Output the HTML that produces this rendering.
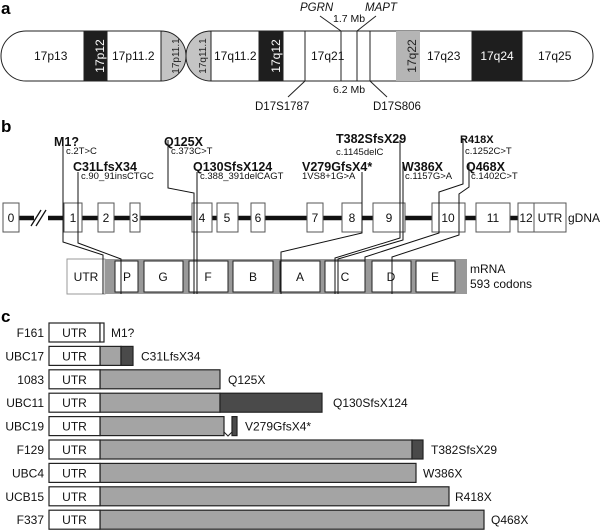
<!DOCTYPE html>
<html><head><meta charset="utf-8"><style>
html,body{margin:0;padding:0;background:#fff;}
svg{display:block;font-family:"Liberation Sans",Arial,sans-serif;}
</style></head><body>
<svg width="600" height="530" viewBox="0 0 600 530" xmlns="http://www.w3.org/2000/svg">
<!-- Panel a -->
<text x="1" y="14" font-size="17" font-weight="bold">a</text>
<g stroke="#222" stroke-width="1">
  <!-- p arm -->
  <path d="M26,31 H161 V81 H26 A25,25 0 0 1 26,31 Z" fill="#fff"/>
  <rect x="84" y="31" width="23" height="50" fill="#1e1e1e"/>
  <path d="M161,31 A25,25 0 0 1 161,81 Z" fill="#c4c4c4"/>
  <!-- q arm -->
  <path d="M211,31 H568 A25,25 0 0 1 568,81 H211 Z" fill="#fff"/>
  <path d="M211,31 A25,25 0 0 0 211,81 Z" fill="#c4c4c4"/>
  <rect x="259" y="31" width="24" height="50" fill="#1e1e1e"/>
  <rect x="396" y="31" width="24" height="50" fill="#b5b5b5" stroke="none"/>
  <rect x="472" y="31" width="50" height="50" fill="#1e1e1e"/>
  <line x1="305" y1="31" x2="305" y2="81"/>
  <line x1="341" y1="31" x2="341" y2="81"/>
  <line x1="357" y1="31" x2="357" y2="81"/>
  <line x1="370" y1="31" x2="370" y2="81"/>
  <line x1="320" y1="16" x2="341" y2="31"/>
  <line x1="376" y1="16" x2="357" y2="31"/>
  <line x1="305" y1="81" x2="288" y2="97"/>
  <line x1="370" y1="81" x2="387" y2="97"/>
</g>
<g font-size="12" fill="#111">
  <text x="34" y="60">17p13</text>
  <text x="112" y="60">17p11.2</text>
  <text x="214" y="60">17q11.2</text>
  <text x="311" y="60">17q21</text>
  <text x="427" y="60">17q23</text>
  <text x="538" y="60">17q25</text>
  <text x="530" y="60" fill="#fff" text-anchor="middle" dx="-33">17q24</text>
</g>
<g font-size="12" fill="#fff" text-anchor="middle">
  <text transform="translate(100,56) rotate(-90)" dy="4">17p12</text>
  <text transform="translate(276,56) rotate(-90)" dy="4">17q12</text>
</g>
<g font-size="10" fill="#222" text-anchor="middle">
  <text transform="translate(176,56) rotate(-90)" dy="3">17p11.1</text>
  <text transform="translate(203,56) rotate(-90)" dy="3">17q11.1</text>
  <text transform="translate(412,56) rotate(-90)" dy="4" font-size="12">17q22</text>
</g>
<g font-size="11.5" fill="#111">
  <text x="300" y="11" font-style="italic">PGRN</text>
  <text x="365" y="11" font-style="italic">MAPT</text>
  <text x="333" y="22" font-size="10.5">1.7 Mb</text>
  <text x="349" y="93" font-size="10.5" text-anchor="middle">6.2 Mb</text>
  <text x="255" y="110">D17S1787</text>
  <text x="373" y="110">D17S806</text>
</g>

<!-- Panel b -->
<text x="1" y="132" font-size="17" font-weight="bold">b</text>
<line x1="19" y1="218" x2="534" y2="218" stroke="#111" stroke-width="4.5"/>
<rect x="34" y="210" width="14" height="16" fill="#fff"/>
<line x1="31" y1="226" x2="41" y2="210" stroke="#111" stroke-width="1.3"/>
<line x1="36" y1="226" x2="46" y2="210" stroke="#111" stroke-width="1.3"/>
<g stroke="#555" stroke-width="1" fill="#fff">
  <rect x="3" y="203" width="16" height="29"/>
  <rect x="64" y="203" width="18" height="29"/>
  <rect x="98" y="203" width="16" height="29"/>
  <rect x="130" y="203" width="10" height="29"/>
  <rect x="192" y="203" width="20" height="29"/>
  <rect x="217" y="203" width="21" height="29"/>
  <rect x="251" y="203" width="14" height="29"/>
  <rect x="307" y="203" width="16" height="29"/>
  <rect x="342" y="203" width="20" height="29"/>
  <rect x="373" y="203" width="32" height="29"/>
  <rect x="432" y="203" width="33" height="29"/>
  <rect x="476" y="203" width="34" height="29"/>
  <rect x="518" y="203" width="48" height="29"/>
  <line x1="534" y1="203" x2="534" y2="232"/>
</g>
<g font-size="12" fill="#111" text-anchor="middle">
  <text x="11" y="222">0</text><text x="73" y="222">1</text><text x="106" y="222">2</text>
  <text x="135" y="222">3</text><text x="202" y="222">4</text><text x="227" y="222">5</text>
  <text x="258" y="222">6</text><text x="315" y="222">7</text><text x="352" y="222">8</text>
  <text x="389" y="222">9</text><text x="448" y="222">10</text><text x="493" y="222">11</text>
  <text x="526" y="222">12</text><text x="550" y="222">UTR</text>
</g>
<text x="568" y="222" font-size="12" fill="#111">gDNA</text>
<!-- mRNA -->
<rect x="105" y="259" width="362" height="35" fill="#999"/>
<rect x="67" y="259" width="38" height="35" fill="#fff" stroke="#999" stroke-width="1"/>
<g fill="#fff" stroke="#222" stroke-width="1">
  <rect x="115" y="261" width="23" height="31"/>
  <rect x="144" y="261" width="39" height="31"/>
  <rect x="189" y="261" width="39" height="31"/>
  <rect x="233" y="261" width="40" height="31"/>
  <rect x="280" y="261" width="40" height="31"/>
  <rect x="325" y="261" width="40" height="31"/>
  <rect x="372" y="261" width="39" height="31"/>
  <rect x="416" y="261" width="39" height="31"/>
</g>
<g font-size="12" fill="#111" text-anchor="middle">
  <text x="86" y="281">UTR</text><text x="127" y="281">P</text><text x="163" y="281">G</text>
  <text x="208" y="281">F</text><text x="253" y="281">B</text><text x="300" y="281">A</text>
  <text x="345" y="281">C</text><text x="391" y="281">D</text><text x="435" y="281">E</text>
</g>
<text x="470" y="273" font-size="12" fill="#111">mRNA</text>
<text x="470" y="288" font-size="12" fill="#111">593 codons</text>
<!-- connectors -->
<g fill="none" stroke="#111" stroke-width="1">
  <polyline points="63,140 63,242 103,255 103,294"/>
  <polyline points="78,172 78,243 121,259 121,294"/>
  <polyline points="168,140 168,188 194,193 194,294"/>
  <polyline points="197,172 197,294"/>
  <polyline points="362,172 362,233 281,252 281,294"/>
  <polyline points="400,140 400,238 335,258 335,294"/>
  <polyline points="403,163 403,240 338,259 338,294"/>
  <polyline points="463,138 463,184 439,192 439,233 365,257 365,262"/>
  <polyline points="469,164 469,187 459,194 459,235 392,257 392,294"/>
</g>
<g fill="#111">
  <g font-size="12.5" font-weight="bold">
    <text x="54" y="146">M1?</text>
    <text x="73" y="171">C31LfsX34</text>
    <text x="164" y="146">Q125X</text>
    <text x="193" y="171">Q130SfsX124</text>
    <text x="302" y="171">V279GfsX4*</text>
    <text x="336" y="143">T382SfsX29</text>
    <text x="402" y="171">W386X</text>
    <text x="460" y="143" font-size="11">R418X</text>
    <text x="466" y="171">Q468X</text>
  </g>
  <g font-size="9.5">
    <text x="66" y="154">c.2T&gt;C</text>
    <text x="81" y="179">c.90_91insCTGC</text>
    <text x="171" y="154">c.373C&gt;T</text>
    <text x="200" y="179">c.388_391delCAGT</text>
    <text x="302" y="179">1VS8+1G&gt;A</text>
    <text x="336" y="155">c.1145delC</text>
    <text x="405" y="179">c.1157G&gt;A</text>
    <text x="465" y="154">c.1252C&gt;T</text>
    <text x="471" y="179">c.1402C&gt;T</text>
  </g>
</g>

<!-- Panel c -->
<text x="1" y="322" font-size="17" font-weight="bold">c</text>
<g stroke="#222" stroke-width="1.2">
  <!-- F161 -->
  <rect x="49" y="323" width="51" height="19" fill="#fff"/>
  <rect x="100" y="323" width="4" height="19" fill="#fff"/>
  <!-- UBC17 -->
  <rect x="100" y="346.4" width="21" height="19" fill="#a4a4a4"/>
  <rect x="121" y="346.4" width="12" height="19" fill="#4a4a4a"/>
  <rect x="49" y="346.4" width="51" height="19" fill="#fff"/>
  <!-- 1083 -->
  <rect x="100" y="369.8" width="120" height="19" fill="#a4a4a4"/>
  <rect x="49" y="369.8" width="51" height="19" fill="#fff"/>
  <!-- UBC11 -->
  <rect x="100" y="393.2" width="120" height="19" fill="#a4a4a4"/>
  <rect x="220" y="393.2" width="102" height="19" fill="#4a4a4a"/>
  <rect x="49" y="393.2" width="51" height="19" fill="#fff"/>
  <!-- UBC19 -->
  <rect x="100" y="416.6" width="124" height="19" fill="#a4a4a4"/>
  <rect x="232" y="416.6" width="5" height="19" fill="#4a4a4a"/>
  <rect x="49" y="416.6" width="51" height="19" fill="#fff"/>
  <!-- F129 -->
  <rect x="100" y="440" width="312" height="19" fill="#a4a4a4"/>
  <rect x="412" y="440" width="11" height="19" fill="#4a4a4a"/>
  <rect x="49" y="440" width="51" height="19" fill="#fff"/>
  <!-- UBC4 -->
  <rect x="100" y="463.4" width="316" height="19" fill="#a4a4a4"/>
  <rect x="49" y="463.4" width="51" height="19" fill="#fff"/>
  <!-- UCB15 -->
  <rect x="100" y="486.8" width="349" height="19" fill="#a4a4a4"/>
  <rect x="49" y="486.8" width="51" height="19" fill="#fff"/>
  <!-- F337 -->
  <rect x="100" y="510.2" width="384" height="19" fill="#a4a4a4"/>
  <rect x="49" y="510.2" width="51" height="19" fill="#fff"/>
</g>
<polyline points="224,432 228,436 232,432" fill="none" stroke="#222" stroke-width="1"/>
<g font-size="12" fill="#111">
  <g text-anchor="middle">
    <text x="74.5" y="337">UTR</text><text x="74.5" y="360.4">UTR</text><text x="74.5" y="383.8">UTR</text>
    <text x="74.5" y="407.2">UTR</text><text x="74.5" y="430.6">UTR</text><text x="74.5" y="454">UTR</text>
    <text x="74.5" y="477.4">UTR</text><text x="74.5" y="500.8">UTR</text><text x="74.5" y="524.2">UTR</text>
  </g>
  <g text-anchor="end">
    <text x="44" y="337">F161</text><text x="44" y="360.4">UBC17</text><text x="44" y="383.8">1083</text>
    <text x="44" y="407.2">UBC11</text><text x="44" y="430.6">UBC19</text><text x="44" y="454">F129</text>
    <text x="44" y="477.4">UBC4</text><text x="44" y="500.8">UCB15</text><text x="44" y="524.2">F337</text>
  </g>
  <text x="111" y="337">M1?</text>
  <text x="141" y="360.4">C31LfsX34</text>
  <text x="228" y="383.8">Q125X</text>
  <text x="333" y="407.2">Q130SfsX124</text>
  <text x="245" y="430.6">V279GfsX4*</text>
  <text x="431" y="454">T382SfsX29</text>
  <text x="423" y="477.4">W386X</text>
  <text x="455" y="500.8">R418X</text>
  <text x="491" y="524.2">Q468X</text>
</g>
</svg>
</body></html>
